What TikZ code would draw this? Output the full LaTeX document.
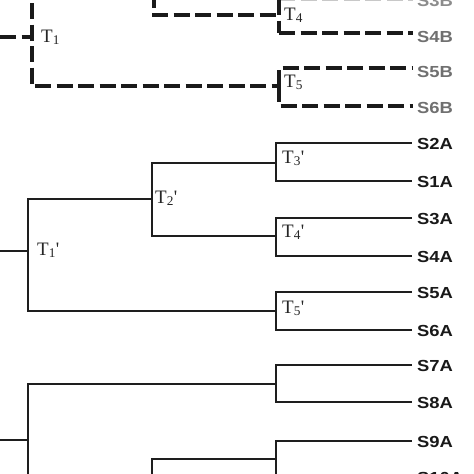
\documentclass[tikz,border=0pt]{standalone}
\usepackage{fontspec}
\usepackage{graphicx}
\setmainfont{Liberation Serif}
\newfontfamily\labfont{Liberation Sans}
\newcommand{\lab}[1]{\scalebox{1.15}[1]{#1}}
\definecolor{lineblk}{HTML}{1E1E1E}
\definecolor{dashblk}{HTML}{1A1A1A}
\definecolor{lightg}{HTML}{C8C8C8}
\definecolor{labgray}{HTML}{707070}
\definecolor{labgraylt}{HTML}{8C8C8C}
\begin{document}
\begin{tikzpicture}[x=1pt,y=-1pt,
  sline/.style={draw=lineblk, line width=2pt},
  dline/.style={draw=dashblk, line width=4.5pt, dash pattern=on 16pt off 5.5pt},
  dlight/.style={draw=lightg, line width=4.5pt, dash pattern=on 16pt off 5.5pt},
  tlab/.style={anchor=base west, inner sep=0pt, font=\fontsize{19}{19}\selectfont, text=black!85},
  leafA/.style={anchor=west, inner sep=0pt, font=\labfont\bfseries\fontsize{16}{16}\selectfont, text=black!90},
  leafB/.style={anchor=west, inner sep=0pt, font=\labfont\bfseries\fontsize{16}{16}\selectfont, text=labgray}]
\useasboundingbox (0,0) rectangle (474,474);
\fill[white] (0,0) rectangle (474,474);
\clip (0,0) rectangle (474,474);

% ---------- dashed tree (top) ----------
\coordinate (b1in) at (0,37);
\coordinate (b1) at (32,37);
\coordinate (b1top) at (32,-40);
\coordinate (b2) at (154,-30);
\coordinate (b4) at (279,15);
\coordinate (b4top) at (279,-1);
\coordinate (b4bot) at (279,33);
\coordinate (b5) at (279,86);
\coordinate (e3b) at (413,-1);
\coordinate (e4b) at (413,33);
\coordinate (e5b) at (413,68);
\coordinate (e6b) at (413,106);

\draw[dline] (b1in) -- (b1);
\draw[dline] (b1top) -- (b1) |- (b5);
\draw[dline] (b2) |- (b4);
\draw[dlight] (b4top) -- (e3b);
\draw[dline] (b4top) -- (b4bot);
\draw[dline] (b4bot) -- (e4b);
\draw[dline] (b5) |- (e5b);
\draw[dline] (b5) |- (e6b);

\node[tlab] (t1) at (41,42) {T\textsubscript{1}};
\node[tlab] (t4) at (284,20) {T\textsubscript{4}};
\node[tlab] (t5) at (284,87) {T\textsubscript{5}};

\node[leafB, text=labgraylt] (s3b) at (417,1) {\lab{S3B}};
\node[leafB] (s4b) at (417,37) {\lab{S4B}};
\node[leafB] (s5b) at (417,72) {\lab{S5B}};
\node[leafB] (s6b) at (417,108) {\lab{S6B}};

% ---------- solid tree (middle) ----------
\coordinate (a1in) at (0,251);
\coordinate (j1) at (28,251);
\coordinate (j2) at (152,199);
\coordinate (j3) at (276,163);
\coordinate (j4) at (276,236);
\coordinate (j5) at (276,311);
\coordinate (e2a) at (412,143);
\coordinate (e1a) at (412,181);
\coordinate (e3a) at (412,218);
\coordinate (e4a) at (412,256);
\coordinate (e5a) at (412,292);
\coordinate (e6a) at (412,330);

\draw[sline] (a1in) -- (j1);
\draw[sline] (j1) |- (j2);
\draw[sline] (j1) |- (j5);
\draw[sline] (j2) |- (j3);
\draw[sline] (j2) |- (j4);
\draw[sline] (j3) |- (e2a);
\draw[sline] (j3) |- (e1a);
\draw[sline] (j4) |- (e3a);
\draw[sline] (j4) |- (e4a);
\draw[sline] (j5) |- (e5a);
\draw[sline] (j5) |- (e6a);

\node[tlab] (t1p) at (37,255) {T\textsubscript{1}\textquotesingle};
\node[tlab] (t2p) at (155,203) {T\textsubscript{2}\textquotesingle};
\node[tlab] (t3p) at (282,163) {T\textsubscript{3}\textquotesingle};
\node[tlab] (t4p) at (282,237) {T\textsubscript{4}\textquotesingle};
\node[tlab] (t5p) at (282,313) {T\textsubscript{5}\textquotesingle};

\node[leafA] (s2a) at (417,144) {\lab{S2A}};
\node[leafA] (s1a) at (417,182) {\lab{S1A}};
\node[leafA] (s3a) at (417,219) {\lab{S3A}};
\node[leafA] (s4a) at (417,257) {\lab{S4A}};
\node[leafA] (s5a) at (417,293) {\lab{S5A}};
\node[leafA] (s6a) at (417,331) {\lab{S6A}};

% ---------- solid tree (bottom) ----------
\coordinate (c1in) at (0,440);
\coordinate (k1) at (28,440);
\coordinate (k1bot) at (28,520);
\coordinate (k2) at (276,384);
\coordinate (k3) at (152,520);
\coordinate (k4) at (276,459);
\coordinate (e7a) at (412,365);
\coordinate (e8a) at (412,402);
\coordinate (e9a) at (412,441);
\coordinate (e10a) at (412,477);

\draw[sline] (c1in) -- (k1);
\draw[sline] (k1) |- (k2);
\draw[sline] (k1) -- (k1bot);
\draw[sline] (k3) |- (k4);
\draw[sline] (k2) |- (e7a);
\draw[sline] (k2) |- (e8a);
\draw[sline] (k4) |- (e9a);
\draw[sline] (k4) |- (e10a);

\node[leafA] (s7a) at (417,366) {\lab{S7A}};
\node[leafA] (s8a) at (417,403) {\lab{S8A}};
\node[leafA] (s9a) at (417,442) {\lab{S9A}};
\node[leafA] (s10a) at (417,478) {\lab{S10A}};
\end{tikzpicture}
\end{document}
